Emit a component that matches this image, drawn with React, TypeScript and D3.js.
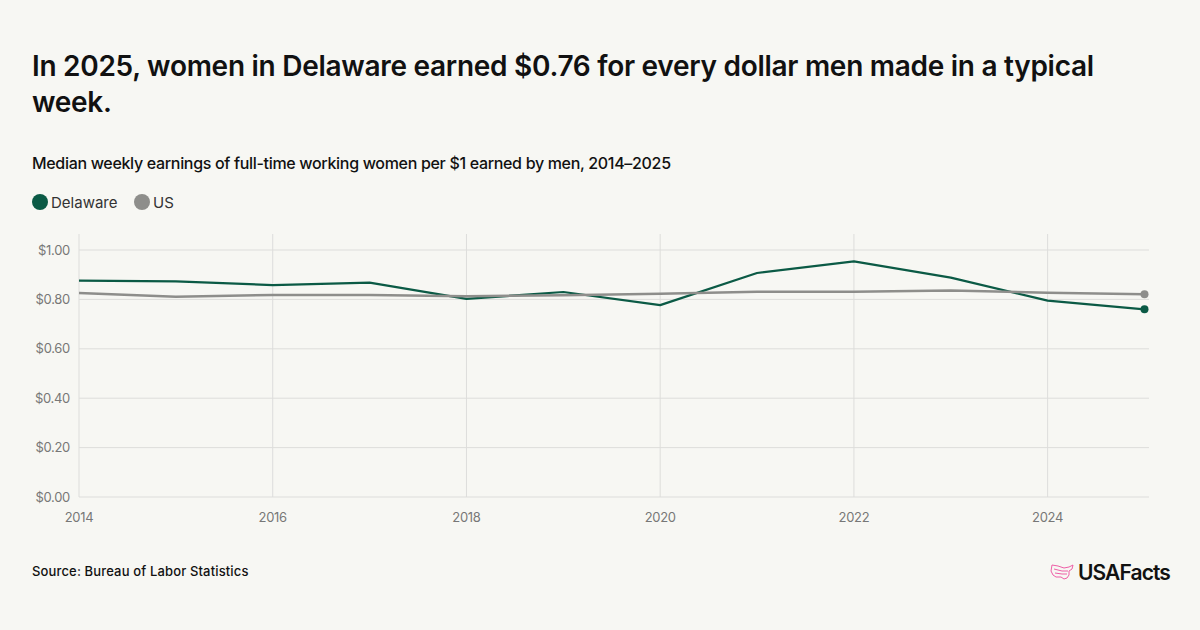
import * as d3 from 'd3';

// median weekly earnings ratio, women per $1 earned by men
const years = [2014, 2015, 2016, 2017, 2018, 2019, 2020, 2021, 2022, 2023, 2024, 2025];
const delaware = [0.876, 0.873, 0.858, 0.868, 0.802, 0.83, 0.777, 0.907, 0.954, 0.888, 0.795, 0.76];
const us = [0.826, 0.811, 0.818, 0.818, 0.813, 0.817, 0.823, 0.831, 0.831, 0.836, 0.827, 0.821];
const yTicks = [0, 0.2, 0.4, 0.6, 0.8, 1.0];
const xTicks = [2014, 2016, 2018, 2020, 2022, 2024];

const W = 1200;
const H = 630;
const BG = '#f7f7f3';
const GREEN = '#0b5a45';
const GRAY = '#8e8e8b';
const FONT = 'Inter, "Noto Sans", sans-serif';

const x = d3.scaleLinear().domain([2014, 2025]).range([79, 1144.5]);
const y = d3.scaleLinear().domain([0, 1]).range([497, 250]);

const line = d3
  .line<number>()
  .x((_, i) => x(years[i]))
  .y((d) => y(d));

export default function App() {
  return (
    <svg
      width={W}
      height={H}
      style={{ display: 'block', position: 'absolute', left: 0, top: 0, background: BG }}
      fontFamily={FONT}
    >
      <rect width={W} height={H} fill={BG} />
      <text x={32} y={76} fontSize={28} fontWeight={600} fill="#111" letterSpacing={-0.28}>
        In 2025, women in Delaware earned $0.76 for every dollar men made in a typical
      </text>
      <text x={32} y={112} fontSize={28} fontWeight={600} fill="#111" letterSpacing={-0.28}>
        week.
      </text>
      <text x={32} y={169} fontSize={16} fontWeight={500} fill="#111" letterSpacing={-0.32}>
        Median weekly earnings of full-time working women per $1 earned by men, 2014–2025
      </text>

      {/* legend */}
      <circle cx={40} cy={202} r={8} fill={GREEN} />
      <text x={51} y={207.5} fontSize={15} fill="#333" letterSpacing={0}>
        Delaware
      </text>
      <circle cx={142} cy={202} r={8} fill={GRAY} />
      <text x={153} y={207.5} fontSize={15} fill="#333" letterSpacing={0}>
        US
      </text>

      {/* grid */}
      {xTicks.map((t) => (
        <line key={'vx' + t} x1={x(t)} x2={x(t)} y1={234} y2={497} stroke="#dddddb" strokeWidth={1} />
      ))}
      {yTicks.map((t) => (
        <line key={'hy' + t} x1={79} x2={1149} y1={y(t)} y2={y(t)} stroke="#dddddb" strokeWidth={1} />
      ))}
      {yTicks.map((t) => (
        <text key={'ly' + t} x={70} y={y(t) + 4.5} fontSize={13} fill="#777" textAnchor="end" letterSpacing={-0.3}>
          {d3.format('$.2f')(t)}
        </text>
      ))}
      {xTicks.map((t) => (
        <text key={'lx' + t} x={x(t)} y={522} fontSize={13} fill="#777" textAnchor="middle" letterSpacing={-0.3}>
          {t}
        </text>
      ))}

      {/* series */}
      <path d={line(delaware) ?? ''} fill="none" stroke={GREEN} strokeWidth={2.2} strokeLinejoin="round" />
      <path d={line(us) ?? ''} fill="none" stroke={GRAY} strokeWidth={2.4} strokeLinejoin="round" />
      <circle cx={x(2025)} cy={y(us[us.length - 1])} r={4} fill={GRAY} />
      <circle cx={x(2025)} cy={y(delaware[delaware.length - 1])} r={4} fill={GREEN} />

      <text x={32} y={576} fontSize={13} fontWeight={500} fill="#111" letterSpacing={0.15}>
        Source: Bureau of Labor Statistics
      </text>

      {/* logo */}
      <g fill="none" stroke="#ee5fa7" strokeWidth={1} strokeLinejoin="round">
        <path d="M1052 565 l6 1 l6 2 l5 -1 l4 -2 l-1 4 l-3 2 l0 4 l-2 3 l-3 1 l-3 -2 l-5 0 l-3 -2 l-2 -4 z" />
        <path d="M1054 569 l8 2 l6 0 M1055 573 l7 1 l5 0" />
      </g>
      <text x={1078} y={580} fontSize={21} fontWeight={600} fill="#111" letterSpacing={-0.9}>
        USAFacts
      </text>
    </svg>
  );
}
